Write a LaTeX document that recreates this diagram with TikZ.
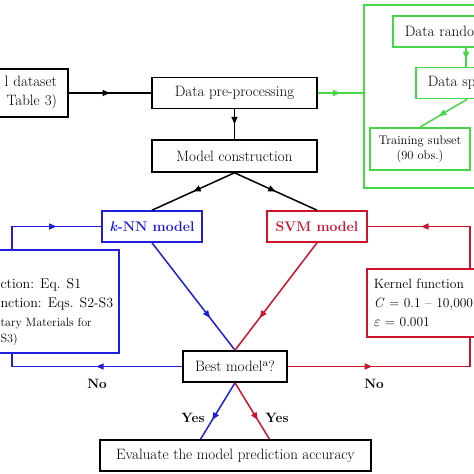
\documentclass[tikz,border=0pt]{standalone}
\usepackage{amsmath}
\usetikzlibrary{arrows.meta,decorations.markings}
\definecolor{knnblue}{RGB}{30,30,220}
\definecolor{svmred}{RGB}{205,20,45}
\definecolor{splitgreen}{RGB}{70,215,70}

\begin{document}
\begin{tikzpicture}[x=1pt, y=-1pt,
    every node/.style={font=\fontsize{15}{19}\selectfont},
    box/.style={draw, line width=1.6pt, inner sep=0pt, minimum height=31pt},
    gbox/.style={box, draw=splitgreen},
    line/.style={line width=1.5pt},
    lbl/.style={font=\fontsize{13.5}{16}\selectfont\bfseries},
    midarrow/.style={postaction={decorate}, decoration={markings,
        mark=at position #1 with {\arrow{Triangle[length=7.5pt,width=6pt]}}}},
    midarrow/.default=0.5]
    \path[use as bounding box] (0,0) rectangle (474,474);
    \begin{scope}
        \clip (0,0) rectangle (474,474);

        \node[box, text width=66pt, inner xsep=11pt, minimum height=48pt, align=right] (dataset) at (24,93) {l dataset\\Table 3)};
        \node[box, minimum width=165pt] (prep) at (234.5,93) {Data pre-processing};
        \node[box, minimum width=165pt, minimum height=32pt] (build) at (234.5,156) {Model construction};

        \node[draw=splitgreen, line width=1.6pt, minimum width=180pt, minimum height=183pt, anchor=north west] (splitbox) at (363,4) {};
        \node[gbox, anchor=west, text width=130pt, inner xsep=12pt, align=left] (rand) at (392,31.5) {Data rando};
        \node[gbox, anchor=west, text width=130pt, inner xsep=12pt, align=left] (dsplit) at (415,83) {Data sp};
        \node[gbox, minimum width=100pt, minimum height=42pt, align=center, font=\fontsize{12.5}{15}\selectfont] (train) at (420,149) {Training subset\\(90 obs.)};

        \node[box, draw=knnblue, text=knnblue, font=\fontsize{14}{16}\selectfont\bfseries, minimum width=100pt] (knn) at (152,226.5) {\textit{k}-NN model};
        \node[box, draw=svmred, text=svmred, font=\fontsize{14}{16}\selectfont\bfseries, minimum width=100pt] (svm) at (317,226.5) {SVM model};

        \node[box, draw=knnblue, anchor=north east, inner xsep=6pt, align=left, font=\fontsize{14}{19}\selectfont] (knnbox) at (120,249)
            {\rule{0pt}{39pt}ction: Eq. S1\\nction: Eqs. S2-S3\\{\fontsize{12}{19}\selectfont tary Materials for}\\[-3pt]{\fontsize{12}{19}\selectfont S3)\rule[-10pt]{0pt}{10pt}}};
        \node[box, draw=svmred, anchor=west, text width=140pt, inner xsep=7pt, minimum height=68pt, align=left, font=\fontsize{13.5}{19}\selectfont] (svmbox) at (366,303)
            {Kernel function\\\textit{C} = 0.1 -- 10,000\\$\varepsilon$ = 0.001};

        \node[box, minimum width=104pt] (best) at (235,366.5) {Best model$^{\mathrm{a}}$?};
        \node[box, minimum width=271pt] (eval) at (235.5,455.5) {Evaluate the model prediction accuracy};

        \node[lbl] (knnno) at (97,384) {No};
        \node[lbl] (svmno) at (374,384) {No};
        \node[lbl] (knnyes) at (193,418) {Yes};
        \node[lbl] (svmyes) at (277,418) {Yes};

        \draw[line, midarrow] (dataset.east) -- (prep.west);
        \draw[line, midarrow] (prep.south) -- (build.north);
        \draw[line, splitgreen, midarrow] (prep.east) -- (prep.east -| splitbox.west);
        \draw[line, splitgreen, midarrow=0.6] ([xshift=74pt]rand.south west) -- ([xshift=74pt]rand.south west |- dsplit.north);
        \draw[line, splitgreen, midarrow=0.6] ([xshift=52pt]dsplit.south west) -- (train.north);

        \draw[line, midarrow] (build.south) -- (knn.north);
        \draw[line, midarrow] (build.south) -- (svm.north);

        \draw[line, knnblue, midarrow=0.7] (knn.south) -- (best.north);
        \draw[line, svmred, midarrow=0.7] (svm.south) -- (best.north);
        \draw[line, knnblue, midarrow=0.66] (best.south) -- ([xshift=-35pt]eval.north);
        \draw[line, svmred, midarrow=0.66] (best.south) -- ([xshift=34pt]eval.north);

        \draw[line, knnblue, midarrow=0.47] (best.west) -| (12,0 |- knnbox.south);
        \draw[line, knnblue, midarrow=0.6] (12,0 |- knnbox.north) |- (knn.west);
        \draw[line, svmred, midarrow=0.4] (best.east) -| ([xshift=104pt]svmbox.south west);
        \draw[line, svmred, midarrow=0.63] ([xshift=104pt]svmbox.north west) |- (svm.east);
    \end{scope}
\end{tikzpicture}
\end{document}
